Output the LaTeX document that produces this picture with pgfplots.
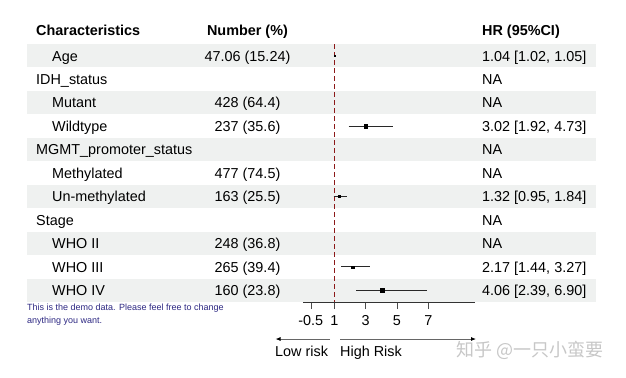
\documentclass[border=0pt]{standalone}
\usepackage{pgfplots}
\pgfplotsset{compat=1.18}
\usepackage{fontspec}
\setmainfont{Liberation Sans}
\newfontfamily\cjk{Noto Sans CJK SC}
\usetikzlibrary{arrows.meta}

\definecolor{rowbg}{RGB}{239,241,240}
\definecolor{refred}{RGB}{140,25,25}
\definecolor{footblue}{RGB}{45,40,130}
\definecolor{cigray}{RGB}{40,40,40}

\newcommand\F{\fontsize{14.4bp}{17bp}\selectfont}
\newcommand\R[1]{{44+(#1-0.5)*23.45+5.3}}

\begin{document}
\begin{tikzpicture}
\begin{scope}[x=1bp,y=-1bp]
\path (0,0) rectangle (626,377);
\foreach \i in {1,3,5,7,9,11} {
  \fill[rowbg] (27,{44+(\i-1)*23.45}) rectangle (596,{44+\i*23.45});
}
\tikzset{every node/.style={inner sep=0pt, font=\F}}
% header
\node[anchor=base west] at (36,35.7) {\bfseries Characteristics};
\node[anchor=base] at (247.5,35.7) {\bfseries Number (\%)};
\node[anchor=base west] at (482,35.7) {\bfseries HR (95\%CI)};
% first column
\node[anchor=base west] at (52,\R{1}) {Age};
\node[anchor=base west] at (36,\R{2}) {IDH\_status};
\node[anchor=base west] at (52,\R{3}) {Mutant};
\node[anchor=base west] at (52,\R{4}) {Wildtype};
\node[anchor=base west] at (36,\R{5}) {MGMT\_promoter\_status};
\node[anchor=base west] at (52,\R{6}) {Methylated};
\node[anchor=base west] at (52,\R{7}) {Un-methylated};
\node[anchor=base west] at (36,\R{8}) {Stage};
\node[anchor=base west] at (52,\R{9}) {WHO II};
\node[anchor=base west] at (52,\R{10}) {WHO III};
\node[anchor=base west] at (52,\R{11}) {WHO IV};
% number column
\node[anchor=base] at (247.5,\R{1}) {47.06 (15.24)};
\node[anchor=base] at (247.5,\R{3}) {428 (64.4)};
\node[anchor=base] at (247.5,\R{4}) {237 (35.6)};
\node[anchor=base] at (247.5,\R{6}) {477 (74.5)};
\node[anchor=base] at (247.5,\R{7}) {163 (25.5)};
\node[anchor=base] at (247.5,\R{9}) {248 (36.8)};
\node[anchor=base] at (247.5,\R{10}) {265 (39.4)};
\node[anchor=base] at (247.5,\R{11}) {160 (23.8)};
% HR column
\node[anchor=base west] at (482,\R{1}) {1.04 [1.02, 1.05]};
\node[anchor=base west] at (482,\R{2}) {NA};
\node[anchor=base west] at (482,\R{3}) {NA};
\node[anchor=base west] at (482,\R{4}) {3.02 [1.92, 4.73]};
\node[anchor=base west] at (482,\R{5}) {NA};
\node[anchor=base west] at (482,\R{6}) {NA};
\node[anchor=base west] at (482,\R{7}) {1.32 [0.95, 1.84]};
\node[anchor=base west] at (482,\R{8}) {NA};
\node[anchor=base west] at (482,\R{9}) {NA};
\node[anchor=base west] at (482,\R{10}) {2.17 [1.44, 3.27]};
\node[anchor=base west] at (482,\R{11}) {4.06 [2.39, 6.90]};
% footnote
\node[anchor=base west, text=footblue, font=\fontsize{9bp}{11bp}\selectfont] at (27,310.7) {This is the demo data. Please feel free to change};
\node[anchor=base west, text=footblue, font=\fontsize{9bp}{11bp}\selectfont] at (27,323.7) {anything you want.};
% arrows
\draw[black!60, line width=0.8bp, -{Latex[black,length=5bp,width=4bp]}] (330,339) -- (275.5,339);
\draw[black!60, line width=0.8bp, -{Latex[black,length=5bp,width=4bp]}] (340,339) -- (476,339);
\node[anchor=base west] at (275,356.7) {Low risk};
\node[anchor=base west] at (340,356.7) {High Risk};
% watermark
\node[anchor=base west, text=black!22, font=\cjk\fontsize{18bp}{20bp}\selectfont] at (456,356) {知乎 @一只小蛮要};
\end{scope}

\begin{axis}[
  at={(303bp,-302bp)}, anchor=south west,
  scale only axis, width=172.3bp, height=257.95bp,
  xmin=-1, xmax=10, ymin=0.5, ymax=11.5, y dir=reverse,
  axis x line=bottom, axis y line=none,
  axis line style={-, black!80, line width=0.6bp},
  xtick={-0.5,1,3,5,7}, xticklabels={-0.5,1,3,5,7},
  tick align=outside, major tick length=7bp,
  tick style={black!70, line width=0.6bp},
  xticklabel style={font=\F, inner sep=0pt, anchor=base, yshift=-16.7bp},
  clip=false,
]
\addplot[refred, line width=0.8bp, dash pattern=on 5bp off 3bp] coordinates {(1,0.5) (1,11.5)};
% confidence intervals
\addplot[cigray, line width=1.1bp] coordinates {(1.02,1) (1.05,1)};
\addplot[cigray, line width=1.1bp] coordinates {(1.92,4) (4.73,4)};
\addplot[cigray, line width=1.1bp] coordinates {(0.95,7) (1.84,7)};
\addplot[cigray, line width=1.1bp] coordinates {(1.44,10) (3.27,10)};
\addplot[cigray, line width=1.1bp] coordinates {(2.39,11) (6.90,11)};
% estimates
\addplot[only marks, mark=square*, mark size=0.6bp, black] coordinates {(1.04,1)};
\addplot[only marks, mark=square*, mark size=1.7bp, black] coordinates {(3.02,4)};
\addplot[only marks, mark=square*, mark size=1.0bp, black] coordinates {(1.32,7)};
\addplot[only marks, mark=square*, mark size=1.1bp, black] coordinates {(2.17,10)};
\addplot[only marks, mark=square*, mark size=1.8bp, black] coordinates {(4.06,11)};
\end{axis}
\end{tikzpicture}
\end{document}
